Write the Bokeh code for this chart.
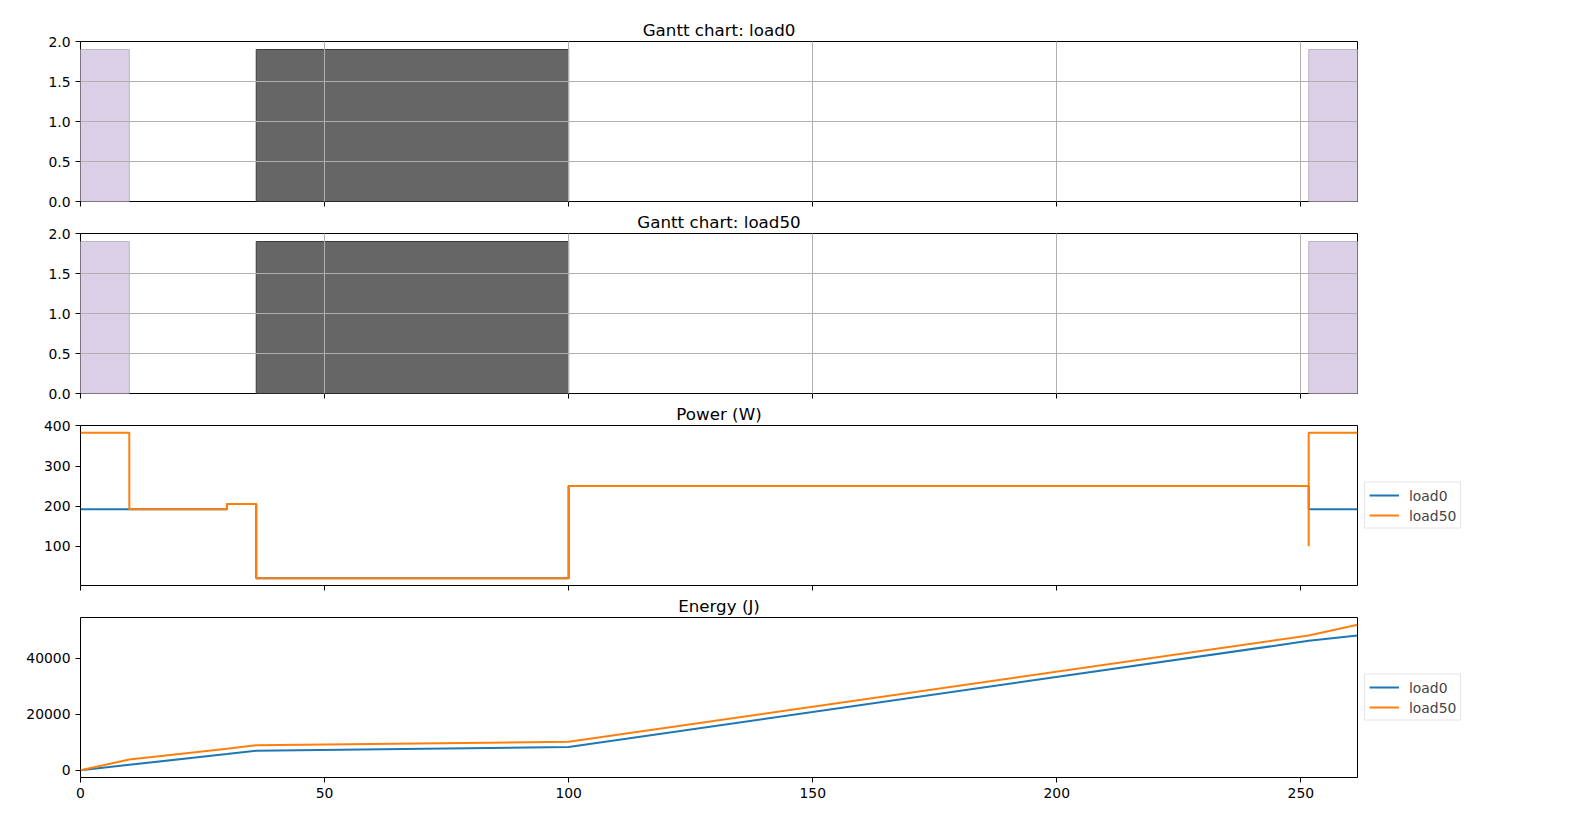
from bokeh.plotting import figure
from bokeh.layouts import column
from bokeh.models import Range1d, FixedTicker, PrintfTickFormatter, Legend, LegendItem
from bokeh.embed import file_html
from bokeh.resources import INLINE

# ---- data ----
x_ticks = [0, 50, 100, 150, 200, 250]
x_max = 261.6

# Gantt tasks (identical for both loads)
task_start = [0, 36, 251.6]
task_end = [10, 100, 261.6]
task_height = [1.9, 1.9, 1.9]
task_fill = ["#dacfe6", "#666666", "#dacfe6"]
task_edge = ["#bdb5c8", "#3c3c3c", "#bdb5c8"]
gantt_ticks = [0.0, 0.5, 1.0, 1.5, 2.0]

# Power (W), step "after"
p0_t = [0, 10, 30, 36, 100, 251.6, 261.6]
p0_w = [192, 192, 205, 20, 250, 192, 192]
p50_t = [0, 10, 30, 36, 100, 251.6, 251.6, 261.6]
p50_w = [383, 192, 205, 20, 250, 100, 383, 383]
power_ticks = [100, 200, 300, 400]

# Energy (J)
e_t = [0, 10, 30, 36, 100, 251.6, 261.6]
e0_j = [0, 1920, 5760, 6990, 8270, 46170, 48090]
e50_j = [0, 3830, 7670, 8900, 10180, 48080, 51910]
energy_ticks = [0, 20000, 40000]

series_names = ["load0", "load50"]
BLUE = "#1f77b4"
ORANGE = "#ff7f0e"
FONT = "DejaVu Sans"

FRAME_W = 1277
FRAME_H = 160


def margin_range(vals):
    lo, hi = min(vals), max(vals)
    m = 0.05 * (hi - lo)
    return Range1d(lo - m, hi + m)


xr = Range1d(0, x_max)


def make_fig(title, yr, top_border, bottom_border, show_xlabels):
    p = figure(frame_width=FRAME_W, frame_height=FRAME_H, x_range=xr, y_range=yr,
               output_backend="svg", toolbar_location=None, tools="",
               min_border_left=80, min_border_top=top_border,
               min_border_bottom=bottom_border, min_border_right=5)
    p.title.text = title
    p.title.align = "center"
    p.title.text_font = FONT
    p.title.text_font_size = "16.7px"
    p.title.text_font_style = "normal"
    p.title.text_color = "black"
    p.title.standoff = 3
    p.outline_line_color = "black"
    p.outline_line_width = 1
    p.outline_line_alpha = 1
    for ax in (p.xaxis[0], p.yaxis[0]):
        ax.axis_line_color = None
        ax.major_tick_out = 5
        ax.major_tick_in = 0
        ax.major_tick_line_color = "black"
        ax.major_tick_line_width = 1
        ax.minor_tick_line_color = None
        ax.major_label_text_font = FONT
        ax.major_label_text_font_size = "13.9px"
        ax.major_label_text_color = "black"
        ax.major_label_standoff = 5
    p.xaxis.ticker = FixedTicker(ticks=x_ticks)
    if not show_xlabels:
        p.xaxis.major_label_overrides = {t: "" for t in x_ticks}
        p.xaxis.major_label_text_font_size = "1px"
        p.xaxis.major_label_standoff = -3
    p.xgrid.grid_line_color = None
    p.ygrid.grid_line_color = None
    return p


def gantt(title, top_border):
    p = make_fig(title, Range1d(0, 2), top_border, 7, False)
    p.quad(left=task_start, right=task_end, bottom=0, top=task_height,
           fill_color=task_fill, line_color=task_edge, line_width=1)
    p.yaxis.ticker = FixedTicker(ticks=gantt_ticks)
    p.yaxis.formatter = PrintfTickFormatter(format="%.1f")
    for g in (p.xgrid[0], p.ygrid[0]):
        g.grid_line_color = "#b0b0b0"
        g.grid_line_width = 1
        g.level = "guide"
    return p


def add_legend(p, renderers):
    items = [LegendItem(label=n, renderers=[r]) for n, r in zip(series_names, renderers)]
    lg = Legend(items=items, location="center_left",
                margin=7, padding=4,
                spacing=3, glyph_width=30, glyph_height=17, label_standoff=10,
                label_text_font=FONT, label_text_font_size="13.9px",
                label_height=17,
                border_line_color="#cccccc", border_line_width=1,
                background_fill_color="white", background_fill_alpha=0.8)
    p.add_layout(lg, "right")


f1 = gantt("Gantt chart: load0", 41)
f2 = gantt("Gantt chart: load50", 23)

f3 = make_fig("Power (W)", margin_range(p0_w + p50_w), 23, 7, False)
r0 = f3.step(p0_t, p0_w, mode="after", line_color=BLUE, line_width=2)
r1 = f3.step(p50_t, p50_w, mode="after", line_color=ORANGE, line_width=2)
f3.yaxis.ticker = FixedTicker(ticks=power_ticks)
add_legend(f3, [r0, r1])

f4 = make_fig("Energy (J)", margin_range(e0_j + e50_j), 23, 30, True)
q0 = f4.line(e_t, e0_j, line_color=BLUE, line_width=2)
q1 = f4.line(e_t, e50_j, line_color=ORANGE, line_width=2)
f4.yaxis.ticker = FixedTicker(ticks=energy_ticks)
f4.yaxis.formatter = PrintfTickFormatter(format="%d")
add_legend(f4, [q0, q1])

layout = column(f1, f2, f3, f4, spacing=0)
open("out.html", "w").write(file_html(layout, INLINE))
